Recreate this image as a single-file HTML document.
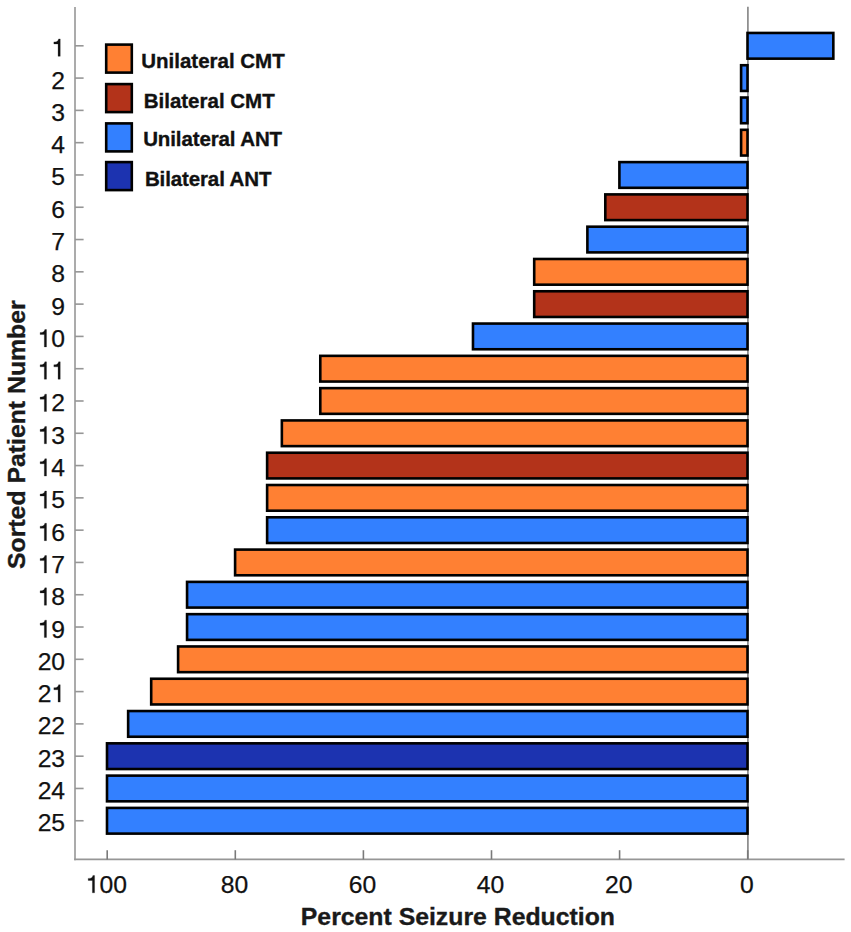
<!DOCTYPE html>
<html><head><meta charset="utf-8"><style>
html,body{margin:0;padding:0;background:#fff;}
svg{display:block;}
text{font-family:"Liberation Sans",sans-serif;fill:#111;}
.tl{font-size:24.7px;stroke:#111;stroke-width:0.25px;} .tl path{fill:#111;vector-effect:non-scaling-stroke;}
.lg{font-size:20.5px;font-weight:bold;stroke:#111;stroke-width:0.35px;}
.al{font-size:24.8px;font-weight:bold;fill:#1a1a1a;stroke:#1a1a1a;stroke-width:0.35px;}
</style></head><body>
<svg width="851" height="932" viewBox="0 0 851 932">
<rect width="851" height="932" fill="#fff"/>
<line x1="747.9" y1="6.7" x2="747.9" y2="859.4" stroke="#8a8a8a" stroke-width="1.7"/>
<rect x="747.50" y="32.95" width="85.83" height="25.70" fill="#3380FF" stroke="#000" stroke-width="2.6"/><rect x="741.10" y="65.24" width="6.40" height="25.70" fill="#3380FF" stroke="#000" stroke-width="2.6"/><rect x="741.10" y="97.53" width="6.40" height="25.70" fill="#3380FF" stroke="#000" stroke-width="2.6"/><rect x="741.10" y="129.82" width="6.40" height="25.70" fill="#FF8033" stroke="#000" stroke-width="2.6"/><rect x="619.40" y="162.11" width="128.10" height="25.70" fill="#3380FF" stroke="#000" stroke-width="2.6"/><rect x="605.31" y="194.40" width="142.19" height="25.70" fill="#B3331A" stroke="#000" stroke-width="2.6"/><rect x="587.38" y="226.69" width="160.12" height="25.70" fill="#3380FF" stroke="#000" stroke-width="2.6"/><rect x="534.21" y="258.98" width="213.29" height="25.70" fill="#FF8033" stroke="#000" stroke-width="2.6"/><rect x="534.21" y="291.27" width="213.29" height="25.70" fill="#B3331A" stroke="#000" stroke-width="2.6"/><rect x="472.98" y="323.56" width="274.52" height="25.70" fill="#3380FF" stroke="#000" stroke-width="2.6"/><rect x="320.29" y="355.85" width="427.21" height="25.70" fill="#FF8033" stroke="#000" stroke-width="2.6"/><rect x="320.29" y="388.14" width="427.21" height="25.70" fill="#FF8033" stroke="#000" stroke-width="2.6"/><rect x="281.86" y="420.43" width="465.64" height="25.70" fill="#FF8033" stroke="#000" stroke-width="2.6"/><rect x="267.12" y="452.72" width="480.38" height="25.70" fill="#B3331A" stroke="#000" stroke-width="2.6"/><rect x="267.12" y="485.01" width="480.38" height="25.70" fill="#FF8033" stroke="#000" stroke-width="2.6"/><rect x="267.12" y="517.30" width="480.38" height="25.70" fill="#3380FF" stroke="#000" stroke-width="2.6"/><rect x="235.10" y="549.59" width="512.40" height="25.70" fill="#FF8033" stroke="#000" stroke-width="2.6"/><rect x="187.06" y="581.88" width="560.44" height="25.70" fill="#3380FF" stroke="#000" stroke-width="2.6"/><rect x="187.06" y="614.17" width="560.44" height="25.70" fill="#3380FF" stroke="#000" stroke-width="2.6"/><rect x="178.10" y="646.46" width="569.40" height="25.70" fill="#FF8033" stroke="#000" stroke-width="2.6"/><rect x="151.19" y="678.75" width="596.31" height="25.70" fill="#FF8033" stroke="#000" stroke-width="2.6"/><rect x="128.14" y="711.04" width="619.36" height="25.70" fill="#3380FF" stroke="#000" stroke-width="2.6"/><rect x="107.00" y="743.33" width="640.50" height="25.70" fill="#1C33B0" stroke="#000" stroke-width="2.6"/><rect x="107.00" y="775.62" width="640.50" height="25.70" fill="#3380FF" stroke="#000" stroke-width="2.6"/><rect x="107.00" y="807.91" width="640.50" height="25.70" fill="#3380FF" stroke="#000" stroke-width="2.6"/>
<line x1="75.0" y1="7.0" x2="75.0" y2="860.1999999999999" stroke="#969696" stroke-width="1.6"/><line x1="74.2" y1="859.4" x2="844.6" y2="859.4" stroke="#969696" stroke-width="1.6"/><line x1="75.0" y1="45.80" x2="83.60" y2="45.80" stroke="#969696" stroke-width="1.6"/><line x1="75.0" y1="78.09" x2="83.60" y2="78.09" stroke="#969696" stroke-width="1.6"/><line x1="75.0" y1="110.38" x2="83.60" y2="110.38" stroke="#969696" stroke-width="1.6"/><line x1="75.0" y1="142.67" x2="83.60" y2="142.67" stroke="#969696" stroke-width="1.6"/><line x1="75.0" y1="174.96" x2="83.60" y2="174.96" stroke="#969696" stroke-width="1.6"/><line x1="75.0" y1="207.25" x2="83.60" y2="207.25" stroke="#969696" stroke-width="1.6"/><line x1="75.0" y1="239.54" x2="83.60" y2="239.54" stroke="#969696" stroke-width="1.6"/><line x1="75.0" y1="271.83" x2="83.60" y2="271.83" stroke="#969696" stroke-width="1.6"/><line x1="75.0" y1="304.12" x2="83.60" y2="304.12" stroke="#969696" stroke-width="1.6"/><line x1="75.0" y1="336.41" x2="83.60" y2="336.41" stroke="#969696" stroke-width="1.6"/><line x1="75.0" y1="368.70" x2="83.60" y2="368.70" stroke="#969696" stroke-width="1.6"/><line x1="75.0" y1="400.99" x2="83.60" y2="400.99" stroke="#969696" stroke-width="1.6"/><line x1="75.0" y1="433.28" x2="83.60" y2="433.28" stroke="#969696" stroke-width="1.6"/><line x1="75.0" y1="465.57" x2="83.60" y2="465.57" stroke="#969696" stroke-width="1.6"/><line x1="75.0" y1="497.86" x2="83.60" y2="497.86" stroke="#969696" stroke-width="1.6"/><line x1="75.0" y1="530.15" x2="83.60" y2="530.15" stroke="#969696" stroke-width="1.6"/><line x1="75.0" y1="562.44" x2="83.60" y2="562.44" stroke="#969696" stroke-width="1.6"/><line x1="75.0" y1="594.73" x2="83.60" y2="594.73" stroke="#969696" stroke-width="1.6"/><line x1="75.0" y1="627.02" x2="83.60" y2="627.02" stroke="#969696" stroke-width="1.6"/><line x1="75.0" y1="659.31" x2="83.60" y2="659.31" stroke="#969696" stroke-width="1.6"/><line x1="75.0" y1="691.60" x2="83.60" y2="691.60" stroke="#969696" stroke-width="1.6"/><line x1="75.0" y1="723.89" x2="83.60" y2="723.89" stroke="#969696" stroke-width="1.6"/><line x1="75.0" y1="756.18" x2="83.60" y2="756.18" stroke="#969696" stroke-width="1.6"/><line x1="75.0" y1="788.47" x2="83.60" y2="788.47" stroke="#969696" stroke-width="1.6"/><line x1="75.0" y1="820.76" x2="83.60" y2="820.76" stroke="#969696" stroke-width="1.6"/><line x1="107.20" y1="859.4" x2="107.20" y2="850.20" stroke="#7a7a7a" stroke-width="1.6"/><line x1="235.30" y1="859.4" x2="235.30" y2="850.20" stroke="#7a7a7a" stroke-width="1.6"/><line x1="363.40" y1="859.4" x2="363.40" y2="850.20" stroke="#7a7a7a" stroke-width="1.6"/><line x1="491.50" y1="859.4" x2="491.50" y2="850.20" stroke="#7a7a7a" stroke-width="1.6"/><line x1="619.60" y1="859.4" x2="619.60" y2="850.20" stroke="#7a7a7a" stroke-width="1.6"/><line x1="747.70" y1="859.4" x2="747.70" y2="850.20" stroke="#7a7a7a" stroke-width="1.6"/>
<g class="tl"><path d="M271 0H359V703H292C280 645 252 606 202 594C172 587 135 584 101 584V500H271Z" transform="translate(51.37,56.30) scale(0.02470,-0.02470)"/><text x="51.37" y="88.59">2</text><text x="51.37" y="120.88">3</text><text x="51.37" y="153.17">4</text><text x="51.37" y="185.46">5</text><text x="51.37" y="217.75">6</text><text x="51.37" y="250.04">7</text><text x="51.37" y="282.33">8</text><text x="51.37" y="314.62">9</text><path d="M271 0H359V703H292C280 645 252 606 202 594C172 587 135 584 101 584V500H271Z" transform="translate(37.63,346.91) scale(0.02470,-0.02470)"/><text x="51.37" y="346.91">0</text><path d="M271 0H359V703H292C280 645 252 606 202 594C172 587 135 584 101 584V500H271Z" transform="translate(37.63,379.20) scale(0.02470,-0.02470)"/><path d="M271 0H359V703H292C280 645 252 606 202 594C172 587 135 584 101 584V500H271Z" transform="translate(51.37,379.20) scale(0.02470,-0.02470)"/><path d="M271 0H359V703H292C280 645 252 606 202 594C172 587 135 584 101 584V500H271Z" transform="translate(37.63,411.49) scale(0.02470,-0.02470)"/><text x="51.37" y="411.49">2</text><path d="M271 0H359V703H292C280 645 252 606 202 594C172 587 135 584 101 584V500H271Z" transform="translate(37.63,443.78) scale(0.02470,-0.02470)"/><text x="51.37" y="443.78">3</text><path d="M271 0H359V703H292C280 645 252 606 202 594C172 587 135 584 101 584V500H271Z" transform="translate(37.63,476.07) scale(0.02470,-0.02470)"/><text x="51.37" y="476.07">4</text><path d="M271 0H359V703H292C280 645 252 606 202 594C172 587 135 584 101 584V500H271Z" transform="translate(37.63,508.36) scale(0.02470,-0.02470)"/><text x="51.37" y="508.36">5</text><path d="M271 0H359V703H292C280 645 252 606 202 594C172 587 135 584 101 584V500H271Z" transform="translate(37.63,540.65) scale(0.02470,-0.02470)"/><text x="51.37" y="540.65">6</text><path d="M271 0H359V703H292C280 645 252 606 202 594C172 587 135 584 101 584V500H271Z" transform="translate(37.63,572.94) scale(0.02470,-0.02470)"/><text x="51.37" y="572.94">7</text><path d="M271 0H359V703H292C280 645 252 606 202 594C172 587 135 584 101 584V500H271Z" transform="translate(37.63,605.23) scale(0.02470,-0.02470)"/><text x="51.37" y="605.23">8</text><path d="M271 0H359V703H292C280 645 252 606 202 594C172 587 135 584 101 584V500H271Z" transform="translate(37.63,637.52) scale(0.02470,-0.02470)"/><text x="51.37" y="637.52">9</text><text x="37.63" y="669.81">2</text><text x="51.37" y="669.81">0</text><text x="37.63" y="702.10">2</text><path d="M271 0H359V703H292C280 645 252 606 202 594C172 587 135 584 101 584V500H271Z" transform="translate(51.37,702.10) scale(0.02470,-0.02470)"/><text x="37.63" y="734.39">2</text><text x="51.37" y="734.39">2</text><text x="37.63" y="766.68">2</text><text x="51.37" y="766.68">3</text><text x="37.63" y="798.97">2</text><text x="51.37" y="798.97">4</text><text x="37.63" y="831.26">2</text><text x="51.37" y="831.26">5</text><path d="M271 0H359V703H292C280 645 252 606 202 594C172 587 135 584 101 584V500H271Z" transform="translate(85.70,892.80) scale(0.02470,-0.02470)"/><text x="99.43" y="892.80">0</text><text x="113.17" y="892.80">0</text><text x="220.67" y="892.80">8</text><text x="234.40" y="892.80">0</text><text x="348.77" y="892.80">6</text><text x="362.50" y="892.80">0</text><text x="476.87" y="892.80">4</text><text x="490.60" y="892.80">0</text><text x="604.97" y="892.80">2</text><text x="618.70" y="892.80">0</text><text x="739.93" y="892.80">0</text></g>
<rect x="106.20" y="44.60" width="25.60" height="28.00" fill="#FF8033" stroke="#000" stroke-width="2.6"/><text x="141.20" y="68.00" class="lg">Unilateral CMT</text><rect x="106.20" y="84.10" width="25.60" height="28.00" fill="#B3331A" stroke="#000" stroke-width="2.6"/><text x="143.70" y="107.50" class="lg">Bilateral CMT</text><rect x="106.20" y="123.40" width="25.60" height="28.00" fill="#3380FF" stroke="#000" stroke-width="2.6"/><text x="143.20" y="146.30" class="lg" letter-spacing="-0.12">Unilateral ANT</text><rect x="106.20" y="162.10" width="25.60" height="28.00" fill="#1C33B0" stroke="#000" stroke-width="2.6"/><text x="144.90" y="185.80" class="lg" letter-spacing="-0.12">Bilateral ANT</text>
<text class="al" x="300.8" y="924.8">Percent Seizure Reduction</text>
<text class="al" transform="translate(25.2,569) rotate(-90)" x="0" y="0">Sorted Patient Number</text>
</svg>
</body></html>
